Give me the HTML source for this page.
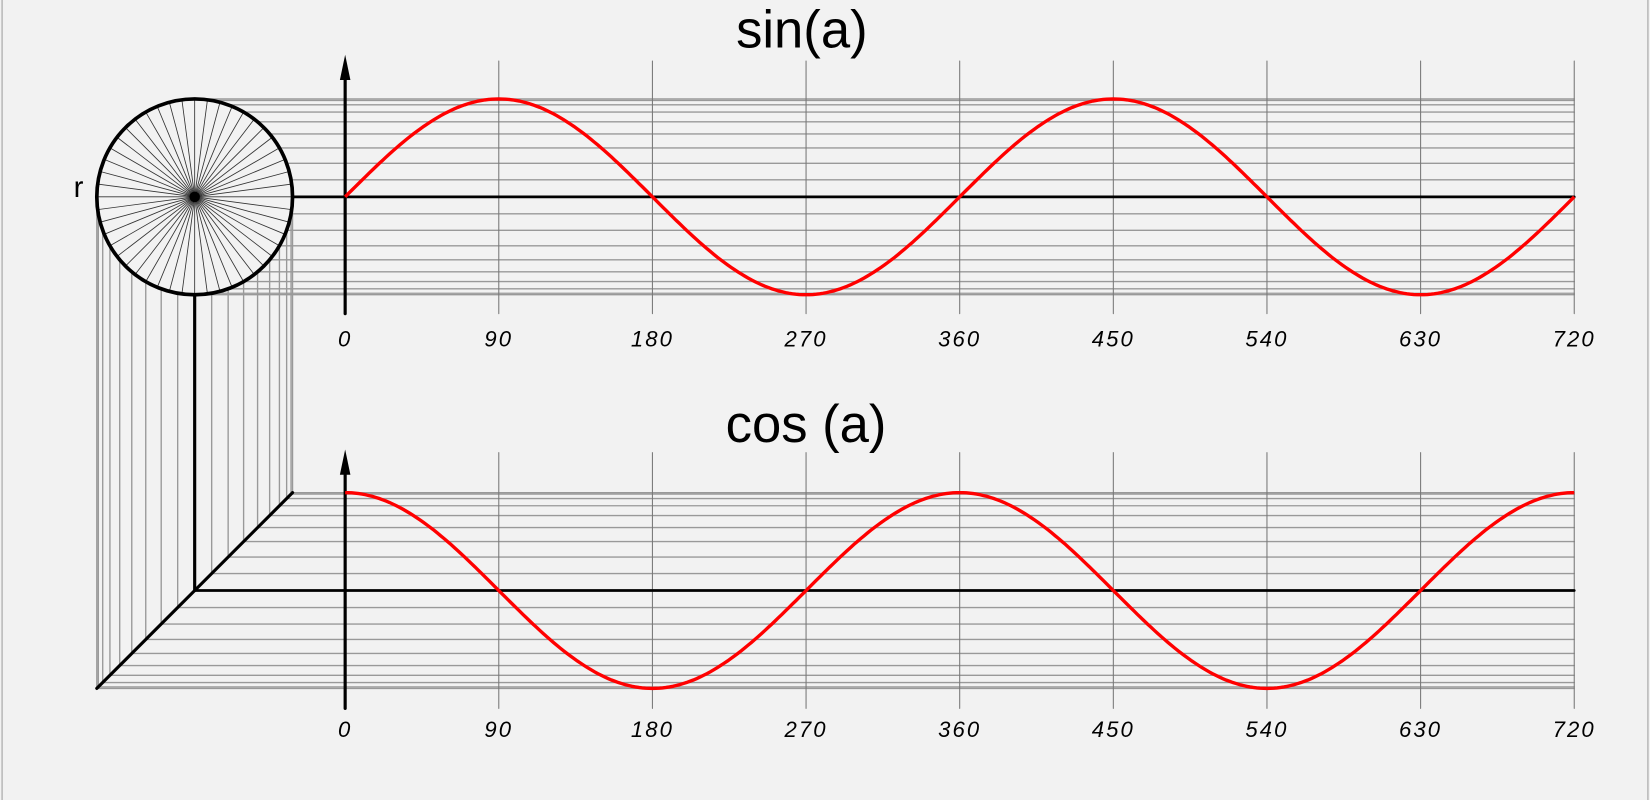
<!DOCTYPE html>
<html><head><meta charset="utf-8"><style>
html,body{margin:0;padding:0;background:#f2f2f2;}
svg{display:block}
text{font-family:"Liberation Sans",sans-serif;font-style:italic;fill:#000}
</style></head><body>
<svg id="s" width="1650" height="800" viewBox="0 0 1568 760" preserveAspectRatio="none" xmlns="http://www.w3.org/2000/svg">
<rect x="0" y="0" width="1568" height="760" fill="#f2f2f2"/>
<line x1="2" y1="0" x2="2" y2="760" stroke="#bbb" stroke-width="1.5"/>
<line x1="1566" y1="0" x2="1566" y2="760" stroke="#bbb" stroke-width="1.5"/>
<g id="g"></g>
<text x="762" y="45" font-size="50" text-anchor="middle" style="font-style:normal">sin(a)</text>
<text x="766" y="420" font-size="50" text-anchor="middle" style="font-style:normal">cos (a)</text>
<text x="70" y="187" font-size="28" style="font-style:normal">r</text>
</svg>
<script>
var g=document.getElementById('g'),h='';
var cx=185,cy=187,r=93,x0=328,k=146/90,xe=1496,sy=187,cy2=561;
function L(a,b,c,d,col,w){h+='<line x1="'+a+'" y1="'+b+'" x2="'+c+'" y2="'+d+'" stroke="'+col+'" stroke-width="'+w+'" stroke-linecap="round"/>';}
for(var t=0;t<360;t+=7.5){var a=t*Math.PI/180;L(cx,cy,cx+r*Math.cos(a),cy-r*Math.sin(a),'#333',0.8);}
h+='<circle cx="'+cx+'" cy="'+cy+'" r="5" fill="#000"/>';
for(var t=-90;t<=90;t+=10){if(t==0)continue;var a=t*Math.PI/180,s=Math.sin(a),c=Math.cos(a);L(cx+r*c,sy-r*s,xe,sy-r*s,'#999',1.3);}
for(var t=0;t<=180;t+=10){var a=t*Math.PI/180,c=Math.cos(a),s=Math.sin(a);var x=cx+r*c;var yd=cy2-r*c;
 L(x,cy+r*s,x,yd,'#999',1.3);
 if(t!=90)L(x,yd,xe,yd,'#999',1.3);}
for(var i=1;i<=8;i++){var x=x0+146*i;L(x,58,x,298,'#777',1);L(x,430,x,673,'#777',1);}
L(278,sy,xe,sy,'#000',2.6);L(cx,cy2,xe,cy2,'#000',2.6);L(cx,280,cx,cy2,'#000',3);L(92,654,278,468,'#000',3);
L(x0,68,x0,298,'#000',3);L(x0,443,x0,673,'#000',3);
h+='<polygon points="'+x0+',52 '+(x0-5)+',76 '+(x0+5)+',76" fill="#000"/>';
h+='<polygon points="'+x0+',427 '+(x0-5)+',451 '+(x0+5)+',451" fill="#000"/>';
h+='<circle cx="'+cx+'" cy="'+cy+'" r="'+r+'" fill="none" stroke="#000" stroke-width="3.5"/>';
var p1='',p2='';for(var d=0;d<=720;d+=2){var a=d*Math.PI/180,x=x0+k*d;p1+=(d?'L':'M')+x.toFixed(1)+','+(sy-r*Math.sin(a)).toFixed(1);p2+=(d?'L':'M')+x.toFixed(1)+','+(cy2-r*Math.cos(a)).toFixed(1);}
h+='<path d="'+p1+'" fill="none" stroke="#f00" stroke-width="3.2"/>';
h+='<path d="'+p2+'" fill="none" stroke="#f00" stroke-width="3.2"/>';
for(var i=0;i<=8;i++){var x=x0+146*i;h+='<text x="'+x+'" y="329" font-size="21" letter-spacing="2" text-anchor="middle">'+(90*i)+'</text>';h+='<text x="'+x+'" y="700" font-size="21" letter-spacing="2" text-anchor="middle">'+(90*i)+'</text>';}
g.innerHTML=h;
</script>
</body></html>
